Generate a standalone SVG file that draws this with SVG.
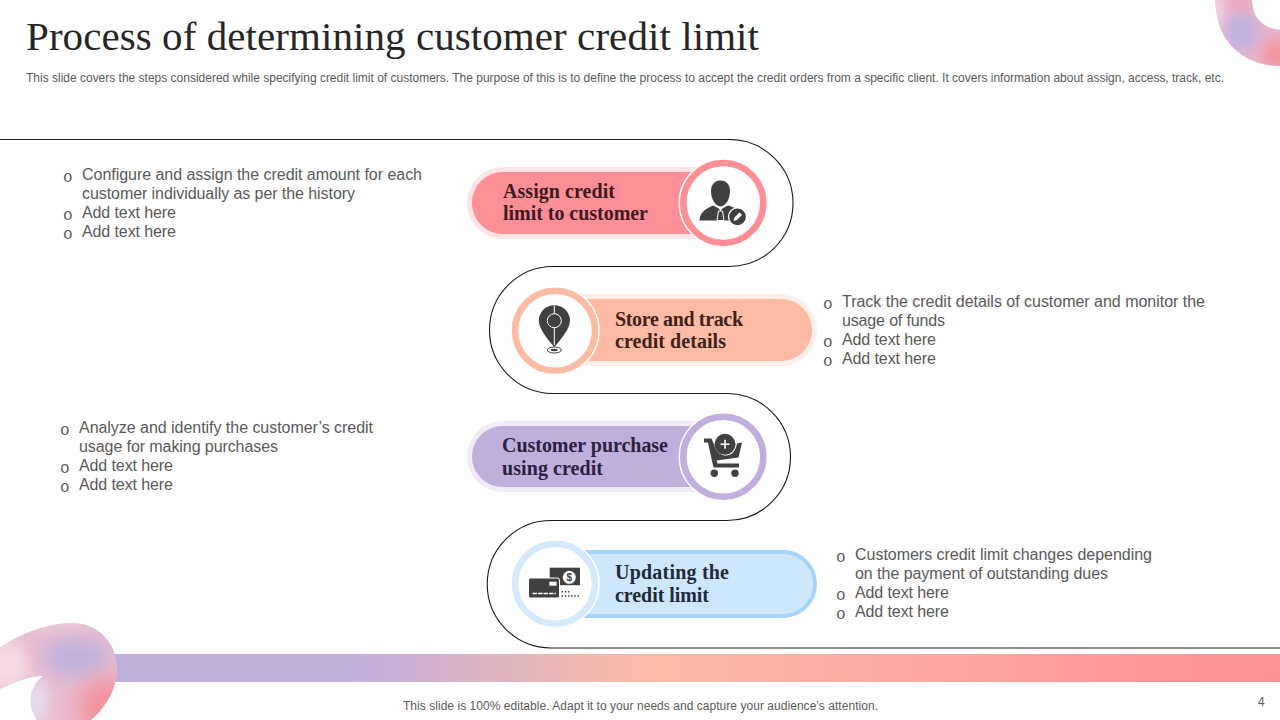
<svg xmlns="http://www.w3.org/2000/svg" width="1280" height="720" viewBox="0 0 1280 720">
<style>
.title{font-family:"Liberation Serif",serif;font-size:41px;fill:#262626}
.sub{font-family:"Liberation Sans",Arial,sans-serif;font-size:12px;fill:#595959}
.body{font-family:"Liberation Sans",Arial,sans-serif;font-size:16px;fill:#595959}
.bul{font-family:"Liberation Mono",monospace;font-size:16px;fill:#595959}
.lab{font-family:"Liberation Serif",serif;font-size:20px;font-weight:bold}
.ic{fill:#404040}
.w{fill:#fff}
.ln{fill:none;stroke:#fff}
</style>
<defs>
<linearGradient id="band" gradientUnits="userSpaceOnUse" x1="116" y1="0" x2="1280" y2="0">
<stop offset="0" stop-color="#c0aedd"/><stop offset=".2" stop-color="#c0aedd"/><stop offset=".46" stop-color="#fdbba4"/><stop offset=".6" stop-color="#fdb0a2"/><stop offset="1" stop-color="#fe8f97"/>
</linearGradient>
<clipPath id="cbl"><path d="M0,648C20,633 50,623 72,623C100,623 117,645 117,668C117,690 105,708 91,720L37,720C31,712 30,702 31,696C33,685 38,680 43,676C30,676 15,682 0,689Z"/></clipPath>
<clipPath id="ctr"><path d="M1215,0C1216,18 1220,32 1229,43C1240,57 1258,66 1280,66L1280,30C1268,29 1258,22 1254,12C1253,8 1252,4 1252,0Z"/></clipPath>
<filter id="b1" x="-80%" y="-80%" width="260%" height="260%"><feGaussianBlur stdDeviation="11"/></filter>
<filter id="b2" x="-80%" y="-80%" width="260%" height="260%"><feGaussianBlur stdDeviation="7"/></filter>
</defs>
<rect width="1280" height="720" fill="#fff"/>

<g id="decor">
<rect x="100" y="654" width="1180" height="28" fill="url(#band)"/>
<g clip-path="url(#cbl)">
<rect x="0" y="620" width="120" height="100" fill="#e9bdd0"/>
<ellipse cx="8" cy="665" rx="20" ry="24" fill="#f5dbe3" filter="url(#b2)"/>
<ellipse cx="76" cy="657" rx="34" ry="20" fill="#c0b0de" filter="url(#b1)"/>
<ellipse cx="108" cy="708" rx="30" ry="30" fill="#f3929c" filter="url(#b1)"/>
<ellipse cx="36" cy="702" rx="13" ry="22" fill="#e6dcee" filter="url(#b2)"/>
<ellipse cx="60" cy="622" rx="34" ry="6" fill="#f2d3de" filter="url(#b2)"/>
</g>
<g clip-path="url(#ctr)">
<rect x="1210" y="0" width="70" height="70" fill="#e6b4cc"/>
<ellipse cx="1216" cy="12" rx="7" ry="24" fill="#f3dde8" filter="url(#b2)"/>
<ellipse cx="1241" cy="32" rx="17" ry="19" fill="#c0b2e2" filter="url(#b2)"/>
<ellipse cx="1280" cy="55" rx="18" ry="16" fill="#f3939f" filter="url(#b2)"/>
<ellipse cx="1240" cy="0" rx="14" ry="8" fill="#eda4bf" filter="url(#b2)"/>
</g>
</g>

<g id="connectors">
<path d="M0,139.500H729.500A63.500,63.500 0 0 1 729.500,266.500H553A63.500,63.500 0 0 0 553,393.500H727A63.500,63.500 0 0 1 727,520.500H551A63.750,63.750 0 0 0 551,648H1280" fill="none" stroke="#1a1a1a" stroke-width="1.100"/>
</g>

<text class="title" x="26" y="50" textLength="733" lengthAdjust="spacing">Process of determining customer credit limit</text>
<text class="sub" x="26" y="82" textLength="1198" lengthAdjust="spacing">This slide covers the steps considered while specifying credit limit of customers. The purpose of this is to define the process to accept the credit orders from a specific client. It covers information about assign, access, track, etc.</text>

<g id="node-assign">
<rect x="469.500" y="169.500" width="290" height="67" rx="33.500" fill="#fe8f97" stroke="#fde4e5" stroke-width="5"/>
<circle cx="723.300" cy="203" r="44" class="ln" stroke-width="1.500"/>
<circle cx="723.300" cy="203" r="40" fill="#fff" stroke="#fe8f97" stroke-width="6.500"/>
<text class="lab" fill="#3d1a1e" x="503" y="198" textLength="112" lengthAdjust="spacing">Assign credit</text>
<text class="lab" fill="#3d1a1e" x="503" y="220" textLength="145" lengthAdjust="spacing">limit to customer</text>
<path class="ic" d="M720.500,180.500C726.500,180.500 730,185 730,191C730,198 726.500,206 720.500,206.500C714.500,206 711,198 711,191C711,185 714.500,180.500 720.500,180.500Z"/>
<path class="ic" d="M713,205.500L718,208L720.500,211L723,208L728,205.500C733,207 738,209 740,214L740,220.500H699.500C700,213 704,209.500 713,205.500Z"/>
<path class="ic" d="M718.500,211h4l1.500,9.500h-7Z" stroke="#fff" stroke-width="1"/>
<circle cx="737.500" cy="216.800" r="9" class="ic" stroke="#fff" stroke-width="1.300"/>
<path d="M733.500,221L734.500,217.500L739.500,212.500L742,215L737,220Z" class="w"/>
</g>

<g id="node-store">
<rect x="525" y="296.500" width="289.500" height="67" rx="33.500" fill="#fdbba4" stroke="#fdf0ea" stroke-width="5"/>
<circle cx="555" cy="330.700" r="44" class="ln" stroke-width="1.500"/>
<circle cx="555" cy="330.700" r="40" fill="#fff" stroke="#fdbba4" stroke-width="6.500"/>
<text class="lab" fill="#3d2318" x="615" y="326" textLength="128" lengthAdjust="spacing">Store and track</text>
<text class="lab" fill="#3d2318" x="615" y="348" textLength="111" lengthAdjust="spacing">credit details</text>
<path class="ic" d="M554.300,305.200C563,305.200 570,312 570,320.700C570,328 562,338 554.300,347C546.500,338 538.800,328 538.800,320.700C538.800,312 545.500,305.200 554.300,305.200Z"/>
<path class="ln" stroke-width="1" d="M554.300,305.500V313.800M554.300,327.700V345"/>
<circle cx="554.300" cy="320.700" r="7" class="ln" stroke-width="1"/>
<ellipse cx="554.300" cy="350" rx="7" ry="3" fill="#fff" stroke="#404040" stroke-width="1"/>
<ellipse cx="554.300" cy="350" rx="3.500" ry="1.200" class="ic"/>
</g>

<g id="node-purchase">
<rect x="469.500" y="423.500" width="290" height="66" rx="33" fill="#c0aedd" stroke="#f1ebf8" stroke-width="5"/>
<circle cx="723.300" cy="456.700" r="44" class="ln" stroke-width="1.500"/>
<circle cx="723.300" cy="456.700" r="40" fill="#fff" stroke="#c0aedd" stroke-width="6.500"/>
<text class="lab" fill="#2c2140" x="502" y="452" textLength="166" lengthAdjust="spacing">Customer purchase</text>
<text class="lab" fill="#2c2140" x="502" y="475" textLength="101" lengthAdjust="spacing">using credit</text>
<path class="ic" d="M704,438.500H711.500L714,444.500C716,453 722,455.500 726,455.500C731,455.500 735.500,452 737,443.500L742,442.500L738.500,457.500L716.500,460.500L717.500,463.500H739V467.500H713.500L712,461L708,442.500H704Z"/>
<circle cx="725" cy="444.300" r="10.500" class="ic"/>
<path class="ln" stroke-width="1.600" d="M720.500,444.300H729.500M725,439.800V448.800"/>
<circle cx="714.300" cy="473.300" r="3.700" class="ic"/>
<circle cx="735" cy="473.300" r="3.700" class="ic"/>
</g>

<g id="node-update">
<rect x="527" y="552" width="288" height="64" rx="32" fill="#cde8fd" stroke="#a5d3f7" stroke-width="4"/>
<circle cx="555" cy="583.700" r="44" class="ln" stroke-width="1.500"/>
<circle cx="555" cy="583.700" r="40" fill="#fff" stroke="#d4e9fb" stroke-width="6.500"/>
<text class="lab" fill="#1f2a3a" x="615" y="579" textLength="114" lengthAdjust="spacing">Updating the</text>
<text class="lab" fill="#1f2a3a" x="615" y="602" textLength="94" lengthAdjust="spacing">credit limit</text>
<rect x="549.700" y="567.700" width="30.300" height="17.500" class="ic"/>
<circle cx="569.300" cy="577.300" r="6.500" class="w"/>
<text x="569.300" y="581" text-anchor="middle" font-family="Liberation Sans, sans-serif" font-size="10" font-weight="bold" fill="#404040">$</text>
<rect x="528.500" y="578" width="31" height="20" rx="2" class="ic" stroke="#fff" stroke-width="1"/>
<rect x="549.300" y="581.700" width="7.300" height="4" class="w"/>
<path class="ln" stroke-width="1.300" stroke-dasharray="4.500 1" d="M532.500,593.500H556"/>
<path fill="none" stroke="#404040" stroke-width="1.400" stroke-dasharray="1.500 1.700" d="M561.500,591.700H569.500M561.500,596H579"/>
</g>

<g id="notes-assign">
<text class="bul" x="63" y="182">o</text>
<text class="body" x="82" y="180" textLength="340" lengthAdjust="spacing">Configure and assign the credit amount for each</text>
<text class="body" x="82" y="199" textLength="273" lengthAdjust="spacing">customer individually as per the history</text>
<text class="bul" x="63" y="220">o</text>
<text class="body" x="82" y="218" textLength="94" lengthAdjust="spacing">Add text here</text>
<text class="bul" x="63" y="239">o</text>
<text class="body" x="82" y="237" textLength="94" lengthAdjust="spacing">Add text here</text>
</g>
<g id="notes-store">
<text class="bul" x="823" y="309">o</text>
<text class="body" x="842" y="307" textLength="363" lengthAdjust="spacing">Track the credit details of customer and monitor the</text>
<text class="body" x="842" y="326" textLength="103" lengthAdjust="spacing">usage of funds</text>
<text class="bul" x="823" y="347">o</text>
<text class="body" x="842" y="345" textLength="94" lengthAdjust="spacing">Add text here</text>
<text class="bul" x="823" y="366">o</text>
<text class="body" x="842" y="364" textLength="94" lengthAdjust="spacing">Add text here</text>
</g>
<g id="notes-purchase">
<text class="bul" x="60" y="435">o</text>
<text class="body" x="79" y="433" textLength="294" lengthAdjust="spacing">Analyze and identify the customer’s credit</text>
<text class="body" x="79" y="452" textLength="199" lengthAdjust="spacing">usage for making purchases</text>
<text class="bul" x="60" y="473">o</text>
<text class="body" x="79" y="471" textLength="94" lengthAdjust="spacing">Add text here</text>
<text class="bul" x="60" y="492">o</text>
<text class="body" x="79" y="490" textLength="94" lengthAdjust="spacing">Add text here</text>
</g>
<g id="notes-update">
<text class="bul" x="836" y="562">o</text>
<text class="body" x="855" y="560" textLength="297" lengthAdjust="spacing">Customers credit limit changes depending</text>
<text class="body" x="855" y="579" textLength="253" lengthAdjust="spacing">on the payment of outstanding dues</text>
<text class="bul" x="836" y="600">o</text>
<text class="body" x="855" y="598" textLength="94" lengthAdjust="spacing">Add text here</text>
<text class="bul" x="836" y="619">o</text>
<text class="body" x="855" y="617" textLength="94" lengthAdjust="spacing">Add text here</text>
</g>

<text class="sub" x="403" y="710" textLength="475" lengthAdjust="spacing">This slide is 100% editable. Adapt it to your needs and capture your audience’s attention.</text>
<text class="sub" x="1258" y="706">4</text>
</svg>
